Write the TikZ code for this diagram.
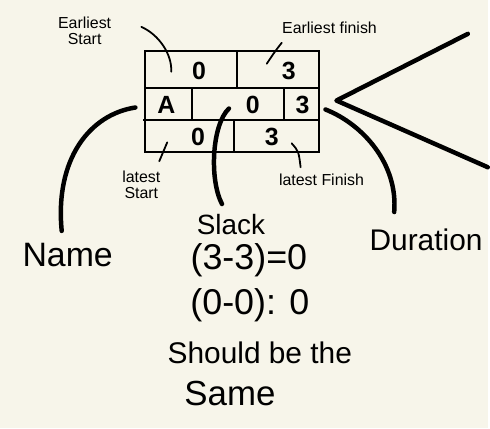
\documentclass[tikz,border=0pt]{standalone}
\usepackage{fontspec}
\setmainfont{Liberation Sans}
\usetikzlibrary{positioning}
\definecolor{paper}{RGB}{247,245,234}

\begin{document}
\begin{tikzpicture}[x=1pt,y=-1pt,
    cell/.style={font=\fontsize{25}{25}\selectfont\bfseries},
    note/.style={font=\fontsize{16}{16}\selectfont,align=center},
    big/.style={font=\fontsize{30}{32}\selectfont},
    grid/.style={line width=2pt},
    leader/.style={line width=1.8pt,line cap=round},
    stroke/.style={line width=4.5pt,line cap=round,line join=round}
]
\fill[paper] (0,0) rectangle (490,430);
% activity box
\draw[grid] (146,51) rectangle (320,153);
\draw[grid] (146,88) -- (320,88);
\draw[grid] (144,121) -- (320,121);
\draw[grid] (238,51) -- (238,88);
\draw[grid] (193,88) -- (193,121);
\draw[grid] (285,88) -- (285,121);
\draw[grid] (235,121) -- (235,153);
% cell values
\node[cell] (es) at (200,71) {0};
\node[cell] (ef) at (290,71) {3};
\node[cell] (act) at (167,105) {A};
\node[cell] (slack) at (254,105) {0};
\node[cell] (dur) at (304,105) {3};
\node[cell] (ls) at (199,138) {0};
\node[cell] (lf) at (273,138) {3};
% small labels
\node[note] (esLbl) at (85,31) {Earliest\\Start};
\node[note] (efLbl) at (331,28) {Earliest finish};
\node[note] (lsLbl) at (142,186) {latest\\Start};
\node[note] (lfLbl) at (323,181) {latest Finish};
\coordinate (esA) at (142,27);
\coordinate (esB) at (172,72);
\coordinate (efA) at (283,43);
\coordinate (efB) at (268,64);
\coordinate (lsA) at (168,143);
\coordinate (lsB) at (160,162);
\coordinate (lfA) at (293,144);
\coordinate (lfB) at (302,168);
\draw[leader] (esA) .. controls (160,35) and (173,55) .. (esB);
\draw[leader] (efA) .. controls (276,52) .. (efB);
\draw[leader] (lsA) -- (lsB);
\draw[leader] (lfA) .. controls (300,152) .. (lfB);
% big labels
\node[big,font=\fontsize{34}{36}\selectfont] (nameLbl) at (68,256) {Name};
\node[big] (durLbl) at (428,241) {Duration};
\node[big,font=\fontsize{28}{30}\selectfont] (slackLbl) at (232,226) {Slack};
\node[big,font=\fontsize{36}{38}\selectfont] (eqOne) at (250,261) {(3-3)=0};
\node[big,font=\fontsize{36}{38}\selectfont] (eqTwo) at (251,307) {(0-0): 0};
\node[big] (same1) at (261,354) {Should be the};
\node[big,font=\fontsize{35}{37}\selectfont] (same2) at (231,395) {Same};
% pointers
\coordinate (nameTip) at (136,108);
\coordinate (slackTip) at (230,109);
\coordinate (durTip) at (327,110);
\coordinate (nameEnd) at (62,232);
\coordinate (slackEnd) at (223,205);
\coordinate (durEnd) at (396,213);
\draw[stroke] (nameTip) .. controls (90,115) and (55,160) .. (nameEnd);
\draw[stroke] (slackTip) .. controls (213,125) and (210,180) .. (slackEnd);
\draw[stroke] (durTip) .. controls (365,125) and (400,165) .. (durEnd);
% outgoing edge
\coordinate (wedgeTop) at (470,34);
\coordinate (wedgeTip) at (338,101);
\coordinate (wedgeLow) at (490,168);
\draw[stroke] (wedgeTop) -- (wedgeTip) -- (wedgeLow);
\end{tikzpicture}
\end{document}
